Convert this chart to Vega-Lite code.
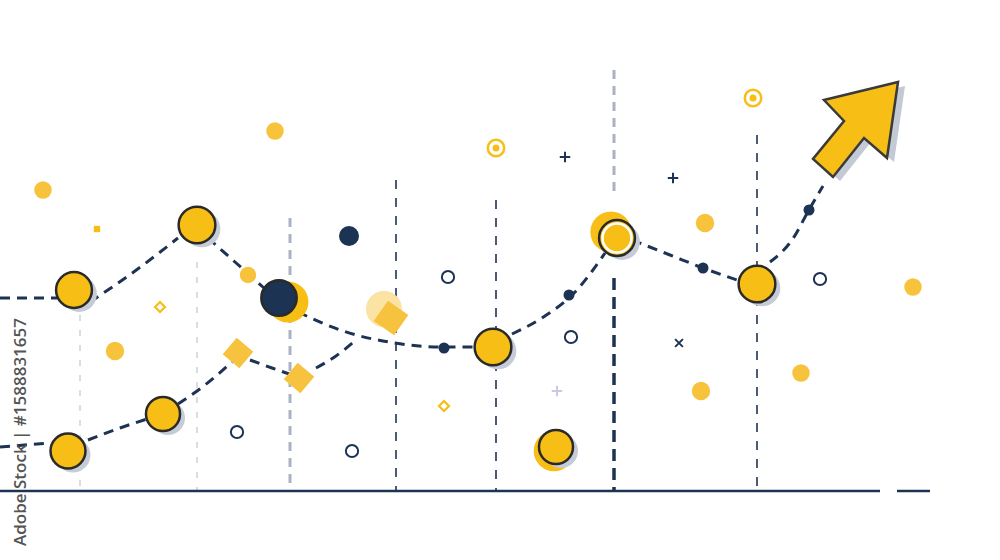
{
  "$schema": "https://vega.github.io/schema/vega-lite/v6.json",
  "width": 1000,
  "height": 560,
  "padding": 0,
  "autosize": {"type": "none"},
  "background": "white",
  "config": {"view": {"stroke": null}, "point": {"opacity": 1}, "line": {"opacity": 1}},
  "datasets": {
    "vlines": [
      {"x": 80, "y": 300, "y2": 490, "s": "faint"},
      {"x": 197, "y": 262, "y2": 490, "s": "faint"},
      {"x": 290, "y": 218, "y2": 490, "s": "grey"},
      {"x": 396, "y": 180, "y2": 490, "s": "navy"},
      {"x": 496, "y": 200, "y2": 490, "s": "navy"},
      {"x": 614, "y": 70, "y2": 196, "s": "grey"},
      {"x": 614, "y": 278, "y2": 490, "s": "bold"},
      {"x": 757, "y": 135, "y2": 490, "s": "navy"}
    ],
    "base": [
      {"x": 0, "x2": 880, "y": 491},
      {"x": 897, "x2": 930, "y": 491}
    ],
    "paths": [
      {"seg": 1, "o": 1, "x": 0, "y": 298}, {"seg": 1, "o": 2, "x": 58, "y": 298},
      {"seg": 2, "o": 1, "x": 90, "y": 302}, {"seg": 2, "o": 2, "x": 135, "y": 271}, {"seg": 2, "o": 3, "x": 178, "y": 238},
      {"seg": 3, "o": 1, "x": 208, "y": 238}, {"seg": 3, "o": 2, "x": 235, "y": 262}, {"seg": 3, "o": 3, "x": 264, "y": 288},
      {"seg": 4, "o": 1, "x": 298, "y": 312}, {"seg": 4, "o": 2, "x": 340, "y": 330}, {"seg": 4, "o": 3, "x": 395, "y": 343}, {"seg": 4, "o": 4, "x": 440, "y": 347}, {"seg": 4, "o": 5, "x": 478, "y": 347},
      {"seg": 5, "o": 1, "x": 512, "y": 334}, {"seg": 5, "o": 2, "x": 545, "y": 316}, {"seg": 5, "o": 3, "x": 575, "y": 292}, {"seg": 5, "o": 4, "x": 605, "y": 253},
      {"seg": 6, "o": 1, "x": 632, "y": 240}, {"seg": 6, "o": 2, "x": 670, "y": 255}, {"seg": 6, "o": 3, "x": 703, "y": 268}, {"seg": 6, "o": 4, "x": 740, "y": 281},
      {"seg": 7, "o": 1, "x": 770, "y": 262}, {"seg": 7, "o": 2, "x": 792, "y": 240}, {"seg": 7, "o": 3, "x": 810, "y": 208}, {"seg": 7, "o": 4, "x": 823, "y": 186},
      {"seg": 8, "o": 1, "x": 0, "y": 447}, {"seg": 8, "o": 2, "x": 50, "y": 443},
      {"seg": 9, "o": 1, "x": 88, "y": 440}, {"seg": 9, "o": 2, "x": 120, "y": 428}, {"seg": 9, "o": 3, "x": 150, "y": 418},
      {"seg": 10, "o": 1, "x": 178, "y": 404}, {"seg": 10, "o": 2, "x": 205, "y": 385}, {"seg": 10, "o": 3, "x": 232, "y": 362},
      {"seg": 11, "o": 1, "x": 250, "y": 360}, {"seg": 11, "o": 2, "x": 272, "y": 368}, {"seg": 11, "o": 3, "x": 292, "y": 375},
      {"seg": 12, "o": 1, "x": 316, "y": 368}, {"seg": 12, "o": 2, "x": 336, "y": 356}, {"seg": 12, "o": 3, "x": 356, "y": 340}
    ],
    "nodes": [
      {"x": 74, "y": 290, "k": "l"},
      {"x": 197, "y": 225, "k": "xl"},
      {"x": 493, "y": 347, "k": "xl"},
      {"x": 617, "y": 238, "k": "l"},
      {"x": 757, "y": 284, "k": "xl"},
      {"x": 68, "y": 451, "k": "m"},
      {"x": 163, "y": 414, "k": "s"},
      {"x": 556, "y": 447, "k": "s"}
    ],
    "halos": [
      {"x": 611, "y": 232, "k": "a"},
      {"x": 288, "y": 302, "k": "b"},
      {"x": 554, "y": 451, "k": "c"}
    ],
    "navynode": [{"x": 279, "y": 298}],
    "whitering": [{"x": 617, "y": 238}],
    "ydots": [
      {"x": 43, "y": 190, "k": "m"},
      {"x": 275, "y": 131, "k": "m"},
      {"x": 115, "y": 351, "k": "b"},
      {"x": 705, "y": 223, "k": "b"},
      {"x": 701, "y": 391, "k": "b"},
      {"x": 801, "y": 373, "k": "m"},
      {"x": 913, "y": 287, "k": "m"},
      {"x": 248, "y": 275, "k": "s"}
    ],
    "ndots": [
      {"x": 349, "y": 236, "k": "b"},
      {"x": 703, "y": 268, "k": "s"},
      {"x": 569, "y": 295, "k": "s"},
      {"x": 444, "y": 348, "k": "s"},
      {"x": 809, "y": 210, "k": "s"}
    ],
    "nrings": [
      {"x": 448, "y": 277}, {"x": 571, "y": 337}, {"x": 352, "y": 451}, {"x": 237, "y": 432}, {"x": 820, "y": 279}
    ],
    "yrings": [
      {"x": 496, "y": 148}, {"x": 753, "y": 98}
    ],
    "blobs": [
      {"x": 238, "y": 353}, {"x": 299, "y": 378}
    ],
    "pale": [{"x": 384, "y": 309}],
    "bigblob": [{"x": 391, "y": 318}],
    "odiam": [{"x": 160, "y": 307}, {"x": 444, "y": 406}],
    "sq": [{"x": 97, "y": 229}],
    "plus": [{"x": 565, "y": 157, "c": "dark"}, {"x": 673, "y": 178, "c": "dark"}, {"x": 557, "y": 391, "c": "light"}],
    "cross": [{"x": 679, "y": 343}],
    "arrow": [{"x": 855, "y": 130}],
    "mark": [{"x": 21, "y": 318, "t": "Adobe Stock | #1588831657"}]
  },
  "encoding": {
    "x": {"field": "x", "type": "quantitative", "axis": null, "scale": {"domain": [0, 1000], "nice": false, "zero": false}},
    "y": {"field": "y", "type": "quantitative", "axis": null, "scale": {"domain": [0, 560], "nice": false, "zero": false, "reverse": true}}
  },
  "resolve": {"scale": {"size": "independent", "color": "independent"}},
  "layer": [
    {
      "data": {"name": "vlines"},
      "transform": [{"filter": "datum.s === 'faint'"}],
      "mark": {"type": "rule", "stroke": "#cdd2da", "strokeWidth": 1.5, "strokeDash": [6, 9]},
      "encoding": {"y2": {"field": "y2"}}
    },
    {
      "data": {"name": "vlines"},
      "transform": [{"filter": "datum.s === 'grey'"}],
      "mark": {"type": "rule", "stroke": "#aab3c3", "strokeWidth": 3, "strokeDash": [9, 7]},
      "encoding": {"y2": {"field": "y2"}}
    },
    {
      "data": {"name": "vlines"},
      "transform": [{"filter": "datum.s === 'navy'"}],
      "mark": {"type": "rule", "stroke": "#1d3354", "strokeWidth": 1.6, "strokeDash": [9, 9]},
      "encoding": {"y2": {"field": "y2"}}
    },
    {
      "data": {"name": "vlines"},
      "transform": [{"filter": "datum.s === 'bold'"}],
      "mark": {"type": "rule", "stroke": "#1d3354", "strokeWidth": 3.5, "strokeDash": [12, 7]},
      "encoding": {"y2": {"field": "y2"}}
    },
    {
      "data": {"name": "base"},
      "mark": {"type": "rule", "stroke": "#1d3354", "strokeWidth": 2.5},
      "encoding": {"x2": {"field": "x2"}}
    },
    {
      "data": {"name": "paths"},
      "mark": {"type": "line", "stroke": "#1d3354", "strokeWidth": 3, "strokeDash": [10, 7], "interpolate": "monotone"},
      "encoding": {"detail": {"field": "seg", "type": "nominal"}, "order": {"field": "o", "type": "quantitative"}}
    },
    {
      "data": {"name": "pale"},
      "mark": {"type": "point", "shape": "circle", "filled": true, "fill": "#fbe3a3", "size": 1300, "strokeWidth": 0}
    },
    {
      "data": {"name": "bigblob"},
      "mark": {"type": "point", "shape": "square", "filled": true, "fill": "#f7c23e", "size": 620, "angle": 35, "strokeWidth": 0}
    },
    {
      "data": {"name": "blobs"},
      "mark": {"type": "point", "shape": "square", "filled": true, "fill": "#f7c23e", "size": 470, "angle": 40, "strokeWidth": 0}
    },
    {
      "data": {"name": "halos"},
      "mark": {"type": "point", "shape": "circle", "filled": true, "fill": "#f7be16", "strokeWidth": 0},
      "encoding": {"size": {"field": "k", "type": "nominal", "legend": null, "scale": {"domain": ["a", "b", "c"], "range": [1700, 1650, 1250]}}}
    },
    {
      "data": {"name": "nodes"},
      "mark": {"type": "point", "shape": "circle", "filled": true, "fill": "#c6ccd7", "strokeWidth": 0, "xOffset": 5, "yOffset": 4},
      "encoding": {"size": {"field": "k", "type": "nominal", "legend": null, "scale": {"domain": ["xl", "l", "m", "s"], "range": [1350, 1160, 1000, 880]}}}
    },
    {
      "data": {"name": "nodes"},
      "mark": {"type": "point", "shape": "circle", "filled": true, "fill": "#f7be16", "stroke": "#2a2a2a", "strokeWidth": 2.5},
      "encoding": {"size": {"field": "k", "type": "nominal", "legend": null, "scale": {"domain": ["xl", "l", "m", "s"], "range": [1350, 1160, 1000, 880]}}}
    },
    {
      "data": {"name": "whitering"},
      "mark": {"type": "point", "shape": "circle", "filled": false, "stroke": "white", "strokeWidth": 2.5, "size": 840}
    },
    {
      "data": {"name": "navynode"},
      "mark": {"type": "point", "shape": "circle", "filled": true, "fill": "#1d3354", "stroke": "#2a2a2a", "strokeWidth": 2.5, "size": 1250}
    },
    {
      "data": {"name": "ydots"},
      "mark": {"type": "point", "shape": "circle", "filled": true, "fill": "#f8c33c", "strokeWidth": 0},
      "encoding": {"size": {"field": "k", "type": "nominal", "legend": null, "scale": {"domain": ["b", "m", "s"], "range": [340, 270, 121]}}}
    },
    {
      "data": {"name": "ndots"},
      "mark": {"type": "point", "shape": "circle", "filled": true, "fill": "#1d3354", "strokeWidth": 0},
      "encoding": {"size": {"field": "k", "type": "nominal", "legend": null, "scale": {"domain": ["b", "s"], "range": [400, 121]}}}
    },
    {
      "data": {"name": "nrings"},
      "mark": {"type": "point", "shape": "circle", "filled": false, "stroke": "#1d3354", "strokeWidth": 2, "size": 150}
    },
    {
      "data": {"name": "yrings"},
      "mark": {"type": "point", "shape": "circle", "filled": false, "stroke": "#f7be16", "strokeWidth": 2.5, "size": 270}
    },
    {
      "data": {"name": "yrings"},
      "mark": {"type": "point", "shape": "circle", "filled": true, "fill": "#f7be16", "strokeWidth": 0, "size": 50}
    },
    {
      "data": {"name": "odiam"},
      "mark": {"type": "point", "shape": "diamond", "filled": false, "stroke": "#f7be16", "strokeWidth": 2.2, "size": 100}
    },
    {
      "data": {"name": "sq"},
      "mark": {"type": "point", "shape": "square", "filled": true, "fill": "#f7be16", "strokeWidth": 0, "size": 40}
    },
    {
      "data": {"name": "plus"},
      "mark": {"type": "point", "shape": "M-1,0L1,0M0,-1L0,1", "filled": false, "strokeWidth": 2, "size": 110},
      "encoding": {"stroke": {"field": "c", "type": "nominal", "legend": null, "scale": {"domain": ["dark", "light"], "range": ["#1d3354", "#c9c9e3"]}}}
    },
    {
      "data": {"name": "cross"},
      "mark": {"type": "point", "shape": "M-1,-1L1,1M-1,1L1,-1", "filled": false, "stroke": "#1d3354", "strokeWidth": 2, "size": 60}
    },
    {
      "data": {"name": "arrow"},
      "mark": {"type": "point", "shape": "M0.896,-1L-0.646,-0.625L-0.229,-0.188L-0.875,0.604L-0.458,0.979L0.188,0.167L0.667,0.583Z", "filled": true, "fill": "#c3cad6", "strokeWidth": 0, "size": 9216, "xOffset": 7, "yOffset": 4}
    },
    {
      "data": {"name": "arrow"},
      "mark": {"type": "point", "shape": "M0.896,-1L-0.646,-0.625L-0.229,-0.188L-0.875,0.604L-0.458,0.979L0.188,0.167L0.667,0.583Z", "filled": true, "fill": "#f7be16", "stroke": "#3a3a3a", "strokeWidth": 2.5, "strokeJoin": "miter", "size": 9216}
    },
    {
      "data": {"name": "mark"},
      "mark": {"type": "text", "angle": 270, "align": "right", "baseline": "middle", "font": "Open Sans", "fontSize": 17, "fontWeight": 600, "fill": "#555555"},
      "encoding": {"text": {"field": "t"}}
    }
  ]
}
